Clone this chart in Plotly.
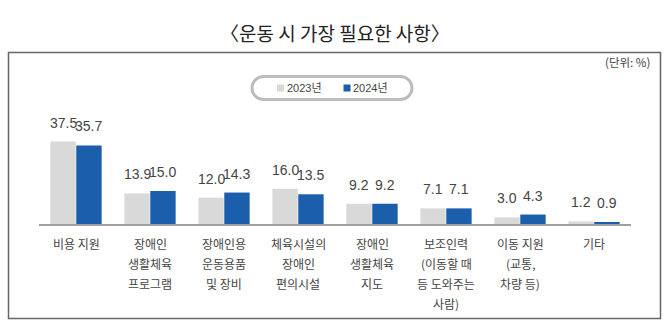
import plotly.graph_objects as go

# ---- data -------------------------------------------------------------
categories = ["비용 지원", "장애인 생활체육 프로그램", "장애인용 운동용품 및 장비",
              "체육시설의 장애인 편의시설", "장애인 생활체육 지도",
              "보조인력 (이동할 때 등 도와주는 사람)", "이동 지원 (교통, 차량 등)", "기타"]
category_lines = [
    ["비용 지원"],
    ["장애인", "생활체육", "프로그램"],
    ["장애인용", "운동용품", "및 장비"],
    ["체육시설의", "장애인", "편의시설"],
    ["장애인", "생활체육", "지도"],
    ["보조인력", "(이동할 때", "등 도와주는", "사람)"],
    ["이동 지원", "(교통,", "차량 등)"],
    ["기타"],
]
series_names = ["2023년", "2024년"]
values_2023 = [37.5, 13.9, 12.0, 16.0, 9.2, 7.1, 3.0, 1.2]
values_2024 = [35.7, 15.0, 14.3, 13.5, 9.2, 7.1, 4.3, 0.9]

# ---- layout geometry (pixels) ------------------------------------------
W, H = 670, 324
ML, MR, MT, MB = 39, 39, 60, 100
PW, PH = W - ML - MR, H - MT - MB
BARGAP = 0.3

GRAY = "#d9d9d9"
BLUE = "#1b5eab"
TEXT = "#444444"
NUM_FONT = "Liberation Sans, Arial, Noto Sans CJK KR"
KR_FONT = "Noto Sans CJK KR, Liberation Sans"


def px_x(p):
    return (p - ML) / PW


def px_y(p):
    return (H - MB - p) / PH


fig = go.Figure()
for name, vals, color in [(series_names[0], values_2023, GRAY),
                          (series_names[1], values_2024, BLUE)]:
    fig.add_trace(go.Bar(x=categories, y=vals, name=name, marker_color=color,
                         marker_line_width=0, showlegend=False))

annotations = []
shapes = []

# value labels above each bar
slot = PW / len(categories)
offset = slot * (1 - BARGAP) / 4
for vals, shift in [(values_2023, -offset), (values_2024, offset)]:
    for cat, v in zip(categories, vals):
        annotations.append(dict(x=cat, y=v, xref="x", yref="y", text=f"{v:.1f}",
                                showarrow=False, yanchor="bottom", xshift=shift,
                                yshift=9, font=dict(family=NUM_FONT, size=14, color=TEXT)))

# multi-line category labels below the axis
for cat, lines in zip(categories, category_lines):
    for i, line in enumerate(lines):
        annotations.append(dict(x=cat, y=0, xref="x", yref="paper", text=line,
                                showarrow=False, yanchor="middle",
                                yshift=-(19 + 20.3 * i),
                                font=dict(family=KR_FONT, size=12, color=TEXT)))

# title and unit
annotations.append(dict(x=0.5, y=px_y(32), xref="paper", yref="paper", xanchor="center",
                        yanchor="middle", text="〈운동 시 가장 필요한 사항〉",
                        showarrow=False, font=dict(family=KR_FONT, size=19, color="#222")))
annotations.append(dict(x=px_x(652), y=px_y(62), xref="paper", yref="paper",
                        xanchor="right", yanchor="middle", text="(단위: %)", showarrow=False,
                        font=dict(family=KR_FONT, size=11.5, color=TEXT)))

# outer frame
shapes.append(dict(type="rect", xref="paper", yref="paper", x0=px_x(8.5), x1=px_x(660.5),
                   y0=px_y(318.5), y1=px_y(52.5), line=dict(color="#666", width=1.5),
                   layer="below"))

# legend: rounded pill with two swatches
lx0, lx1, ly0, ly1 = 252, 412, 76.5, 99.5
r = (ly1 - ly0) / 2
k = 0.5523 * r
ym = (ly0 + ly1) / 2


def P(x, y):
    return f"{px_x(x):.5f},{px_y(y):.5f}"


pill = (f"M{P(lx0 + r, ly0)} L{P(lx1 - r, ly0)} "
        f"C{P(lx1 - r + k, ly0)} {P(lx1, ym - k)} {P(lx1, ym)} "
        f"C{P(lx1, ym + k)} {P(lx1 - r + k, ly1)} {P(lx1 - r, ly1)} "
        f"L{P(lx0 + r, ly1)} "
        f"C{P(lx0 + r - k, ly1)} {P(lx0, ym + k)} {P(lx0, ym)} "
        f"C{P(lx0, ym - k)} {P(lx0 + r - k, ly0)} {P(lx0 + r, ly0)} Z")
shapes.append(dict(type="path", xref="paper", yref="paper", path=pill,
                   line=dict(color="#bdbdbd", width=3)))

for sx, tx, color, name in [(277, 285, GRAY, series_names[0]), (343.5, 351, BLUE, series_names[1])]:
    shapes.append(dict(type="rect", xref="paper", yref="paper", x0=px_x(sx), x1=px_x(sx + 7),
                       y0=px_y(ym + 3.5), y1=px_y(ym - 3.5), fillcolor=color, line_width=0))
    annotations.append(dict(x=px_x(tx), y=px_y(ym), xref="paper", yref="paper",
                            xanchor="left", yanchor="middle", text=name, showarrow=False,
                            font=dict(family=NUM_FONT, size=11, color=TEXT)))

fig.update_layout(
    width=W, height=H,
    margin=dict(l=ML, r=MR, t=MT, b=MB, pad=0),
    paper_bgcolor="white", plot_bgcolor="white",
    barmode="group", bargap=BARGAP, bargroupgap=0.02,
    xaxis=dict(showticklabels=False, ticks="", showgrid=False, showline=True,
               linecolor="#a0a0a0", linewidth=2, fixedrange=True),
    yaxis=dict(range=[0, PH / 2.2], visible=False, showgrid=False, fixedrange=True),
    annotations=annotations, shapes=shapes,
)

fig.write_html("out.html")
